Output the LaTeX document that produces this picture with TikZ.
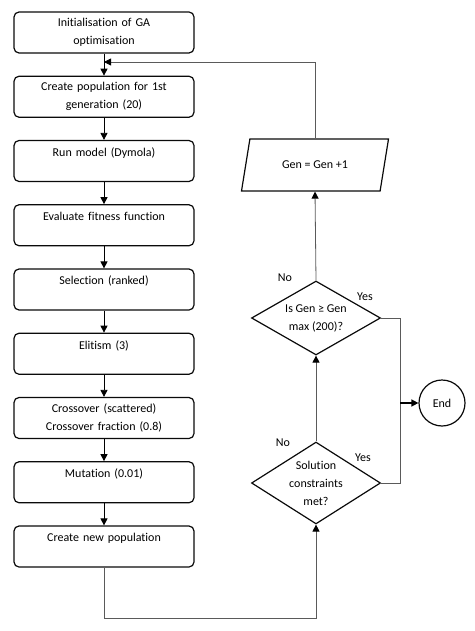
\documentclass[tikz,border=0pt]{standalone}
\usepackage{fontspec}
\setmainfont{Carlito}[Ligatures=NoCommon]
\usetikzlibrary{shapes.geometric}
\usetikzlibrary{arrows.meta}
\definecolor{linie}{RGB}{90,90,90}
\definecolor{rahmen}{RGB}{10,10,10}

\tikzset{
  stepbox/.style={draw=rahmen, line width=1.2pt, rounded corners=5pt, minimum width=180pt, minimum height=41pt, text width=176pt, align=center, inner sep=2pt, font=\fontsize{12}{18}\selectfont},
  decide/.style={draw=rahmen, diamond, line width=1.2pt, minimum width=129pt, minimum height=74pt, inner sep=-4pt, align=center, font=\fontsize{12}{18}\selectfont},
  counter/.style={draw=rahmen, trapezium, trapezium left angle=60, trapezium right angle=120, trapezium stretches body, line width=1.2pt, minimum width=147pt, minimum height=52pt, font=\fontsize{12}{18}\selectfont},
  stopcircle/.style={draw=rahmen, circle, line width=1.2pt, minimum size=46pt, font=\fontsize{12}{18}\selectfont},
  answer/.style={font=\fontsize{12}{18}\selectfont},
  flow/.style={line width=0.8pt, -{Triangle[length=7pt,width=7pt,color=black]}},
  feedback/.style={draw=linie, line width=0.9pt}
}

\begin{document}
\begin{tikzpicture}[x=1pt, y=-1pt, black]

    \useasboundingbox (0,0) rectangle (474,631);

    \foreach \i/\txt in {1/{Initialisation of GA\\optimisation}, 2/{Create population for 1st\\generation (20)}, 3/{Run model (Dymola)\\\mbox{}}, 4/{Evaluate fitness function\\\mbox{}}, 5/{Selection (ranked)\\\mbox{}}, 6/{Elitism (3)\\\mbox{}}, 7/{Crossover (scattered)\\Crossover fraction (0.8)}, 8/{Mutation (0.01)\\\mbox{}}, 9/{Create new population\\\mbox{}}}{
            \node[stepbox] (s\i) at (104,{32.5+64.25*(\i-1)}) {\txt};
        }

    \foreach \i [evaluate=\i as \j using int(\i+1)] in {1,...,8}
				\draw[flow] (s\i) -- (s\j);

    \node[counter] (gen) at (315,165) {Gen = Gen +1};
    \node[decide] (gmax) at (316,318) {Is Gen ≥ Gen\\max (200)?};
    \node[decide] (sol) at (316,483) {Solution\\constraints\\met?};
    \node[stopcircle] (end) at (442,403) {End};

    \node[answer] (no1) at (285,278) {No};
    \node[answer] (yes1) at (365,297) {Yes};
    \node[answer] (no2) at (283,443) {No};
    \node[answer] (yes2) at (363,458) {Yes};

    \coordinate (merge) at (104,62);
    \coordinate (low) at (316,618);
    \coordinate (join) at (400,403);

    \draw[feedback, flow] (s9.south) |- (low) -- (sol.south);
    \draw[feedback, flow] (sol.north) -- (gmax.south);
    \draw[feedback, flow] (gmax.north) -- (gen.south);
    \draw[feedback, flow] (gen.north) |- (merge);
    \draw[feedback] (gmax.east) -| (join);
    \draw[feedback] (sol.east) -| (join);
    \draw[flow, line width=1.4pt] (join) -- (end);

\end{tikzpicture}
\end{document}
